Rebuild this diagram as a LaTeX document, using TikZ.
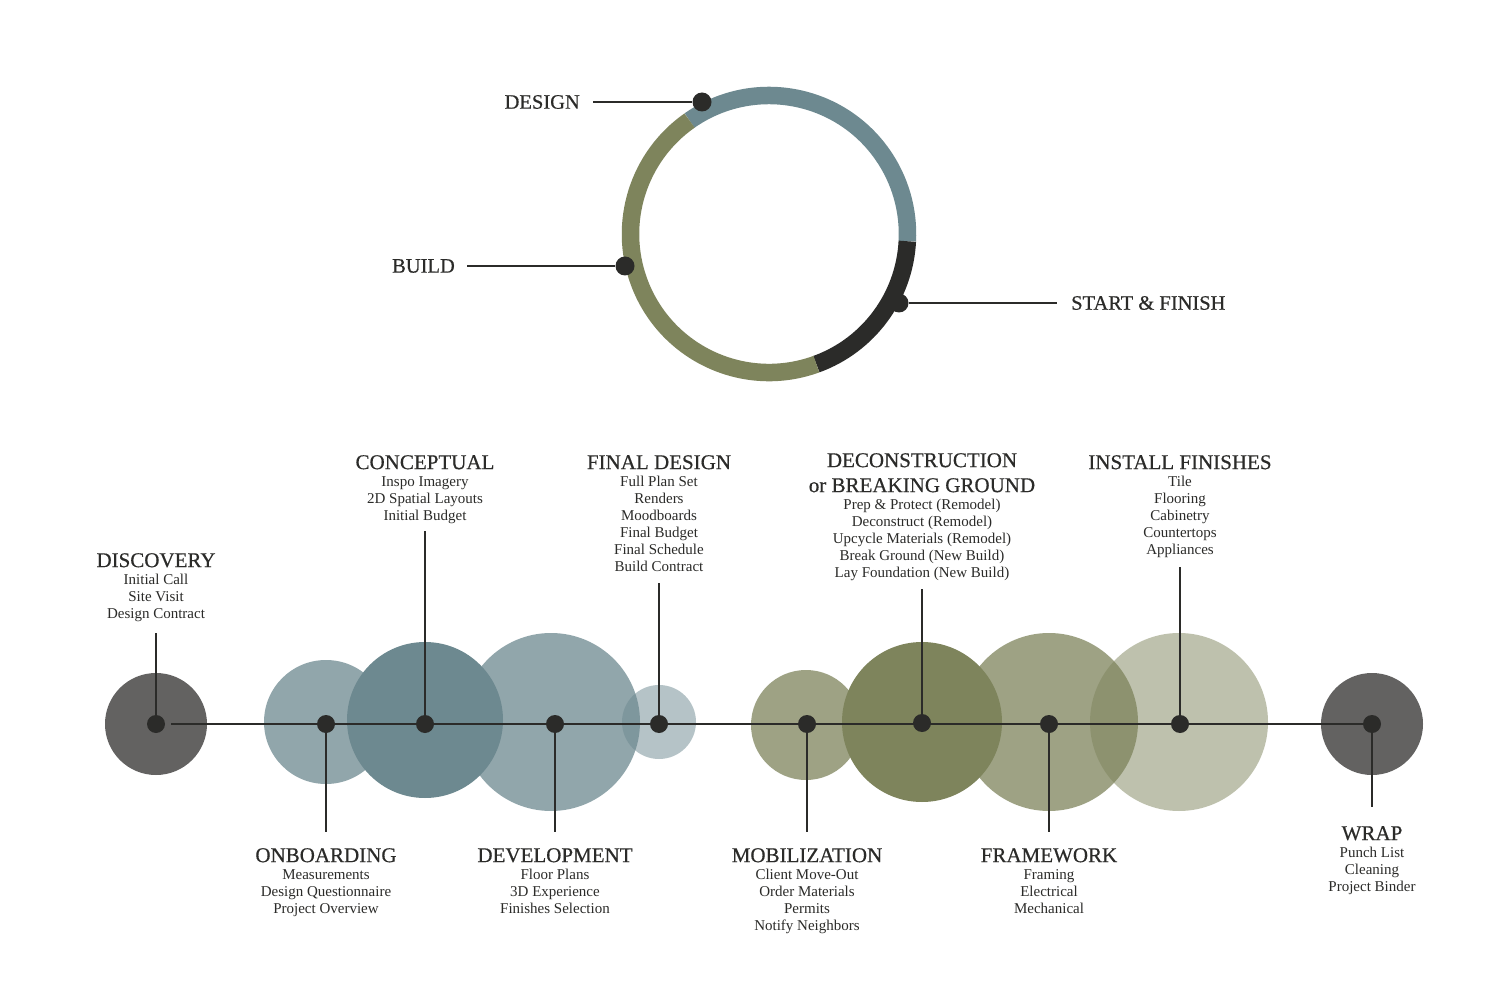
\documentclass[tikz,border=0pt]{standalone}
\usepackage{fontspec}
\setmainfont{Liberation Serif}
\newfontfamily\phasefam[FakeBold=0.5]{Liberation Serif}
\definecolor{ink}{HTML}{2B2B29}
\definecolor{slate}{HTML}{6D8990}
\definecolor{olive}{HTML}{7E845C}
\definecolor{charcoal}{HTML}{636261}
\newcommand\phasehd{\phasefam\fontsize{21}{17}\selectfont}
\begin{document}
\begin{tikzpicture}[x=1pt,y=-1pt,
  conn/.style={draw=ink,line width=1.5pt},
  dot/.style={circle,fill=ink,inner sep=0pt,minimum size=18pt},
  rdot/.style={circle,fill=ink,inner sep=0pt,minimum size=19pt},
  lab/.style={align=center,inner sep=0pt,text=ink,anchor=north,font=\fontsize{15}{17}\selectfont},
  ringlab/.style={inner sep=0pt,text=ink,font=\phasefam\fontsize{20.5}{24}\selectfont},
  ringseg/.style={line width=17.5pt,line cap=butt}]
\useasboundingbox (0,0) rectangle (1500,992);
\fill[white] (0,0) rectangle (1500,992);

% ---------- ring ----------
\coordinate (rc) at (769,234);
\draw[ringseg,slate] (rc) ++(-125:138.5) arc[start angle=-125,end angle=3,radius=138.5];
\draw[ringseg,ink] (rc) ++(3:138.5) arc[start angle=3,end angle=70,radius=138.5];
\draw[ringseg,olive] (rc) ++(70:138.5) arc[start angle=70,end angle=235,radius=138.5];

\node[rdot] (rdesign) at (702,102) {};
\node[rdot] (rbuild) at (625,266) {};
\node[rdot] (rstart) at (899,303) {};
\node[ringlab,anchor=east] (tdesign) at (580,102) {DESIGN};
\node[ringlab,anchor=east] (tbuild) at (455,266) {BUILD};
\node[ringlab,anchor=west] (tstart) at (1071,303) {START \& FINISH};
\coordinate (edesign) at (593,102);
\coordinate (ebuild) at (467,266);
\coordinate (estart) at (1057,303);
\draw[conn] (edesign) -- (rdesign);
\draw[conn] (ebuild) -- (rbuild);
\draw[conn] (rstart) -- (estart);

% ---------- circles ----------
\fill[charcoal] (156,724) circle[radius=51];
\fill[slate,fill opacity=0.75] (326,722) circle[radius=62];
\fill[slate,fill opacity=0.75] (551,722) circle[radius=89];
\fill[slate,fill opacity=0.5] (659,722) circle[radius=37];
\fill[slate] (425,720) circle[radius=78];
\fill[olive,fill opacity=0.75] (806,725) circle[radius=55];
\fill[olive,fill opacity=0.75] (1049,722) circle[radius=89];
\fill[olive,fill opacity=0.5] (1179,722) circle[radius=89];
\fill[olive] (922,722) circle[radius=80];
\fill[charcoal] (1372,724) circle[radius=51];

% ---------- timeline dots ----------
\node[dot] (p1) at (156,724) {};
\node[dot] (p2) at (326,724) {};
\node[dot] (p3) at (425,724) {};
\node[dot] (p4) at (555,724) {};
\node[dot] (p5) at (659,724) {};
\node[dot] (p6) at (807,724) {};
\node[dot] (p7) at (922,723) {};
\node[dot] (p8) at (1049,724) {};
\node[dot] (p9) at (1180,724) {};
\node[dot] (p10) at (1372,724) {};
\coordinate (tstartpt) at (171,724);
\draw[conn] (tstartpt) -- (p10);

% ---------- labels ----------
\node[lab] (l1) at (156,553) {{\phasehd DISCOVERY}\\Initial Call\\Site Visit\\Design Contract};
\node[lab] (l3) at (425,455) {{\phasehd CONCEPTUAL}\\Inspo Imagery\\2D Spatial Layouts\\Initial Budget};
\node[lab] (l5) at (659,455) {{\phasehd FINAL DESIGN}\\Full Plan Set\\Renders\\Moodboards\\Final Budget\\Final Schedule\\Build Contract};
\node[lab] (l7) at (922,453) {{\phasehd DECONSTRUCTION}\\[8pt]{\phasehd or BREAKING GROUND}\\Prep \& Protect (Remodel)\\Deconstruct (Remodel)\\Upcycle Materials (Remodel)\\Break Ground (New Build)\\Lay Foundation (New Build)};
\node[lab] (l9) at (1180,455) {{\phasehd INSTALL FINISHES}\\Tile\\Flooring\\Cabinetry\\Countertops\\Appliances};
\node[lab] (l2) at (326,848) {{\phasehd ONBOARDING}\\Measurements\\Design Questionnaire\\Project Overview};
\node[lab] (l4) at (555,848) {{\phasehd DEVELOPMENT}\\Floor Plans\\3D Experience\\Finishes Selection};
\node[lab] (l6) at (807,848) {{\phasehd MOBILIZATION}\\Client Move-Out\\Order Materials\\Permits\\Notify Neighbors};
\node[lab] (l8) at (1049,848) {{\phasehd FRAMEWORK}\\Framing\\Electrical\\Mechanical};
\node[lab] (l10) at (1372,826) {{\phasehd WRAP}\\Punch List\\Cleaning\\Project Binder};

% ---------- connectors ----------
\coordinate (c1) at (156,633);
\coordinate (c3) at (425,531);
\coordinate (c5) at (659,583);
\coordinate (c7) at (922,589);
\coordinate (c9) at (1180,567);
\coordinate (c2) at (326,832);
\coordinate (c4) at (555,832);
\coordinate (c6) at (807,832);
\coordinate (c8) at (1049,832);
\coordinate (c10) at (1372,807);
\draw[conn] (c1) -- (p1);
\draw[conn] (c3) -- (p3);
\draw[conn] (c5) -- (p5);
\draw[conn] (c7) -- (p7);
\draw[conn] (c9) -- (p9);
\draw[conn] (p2) -- (c2);
\draw[conn] (p4) -- (c4);
\draw[conn] (p6) -- (c6);
\draw[conn] (p8) -- (c8);
\draw[conn] (p10) -- (c10);
\end{tikzpicture}
\end{document}
